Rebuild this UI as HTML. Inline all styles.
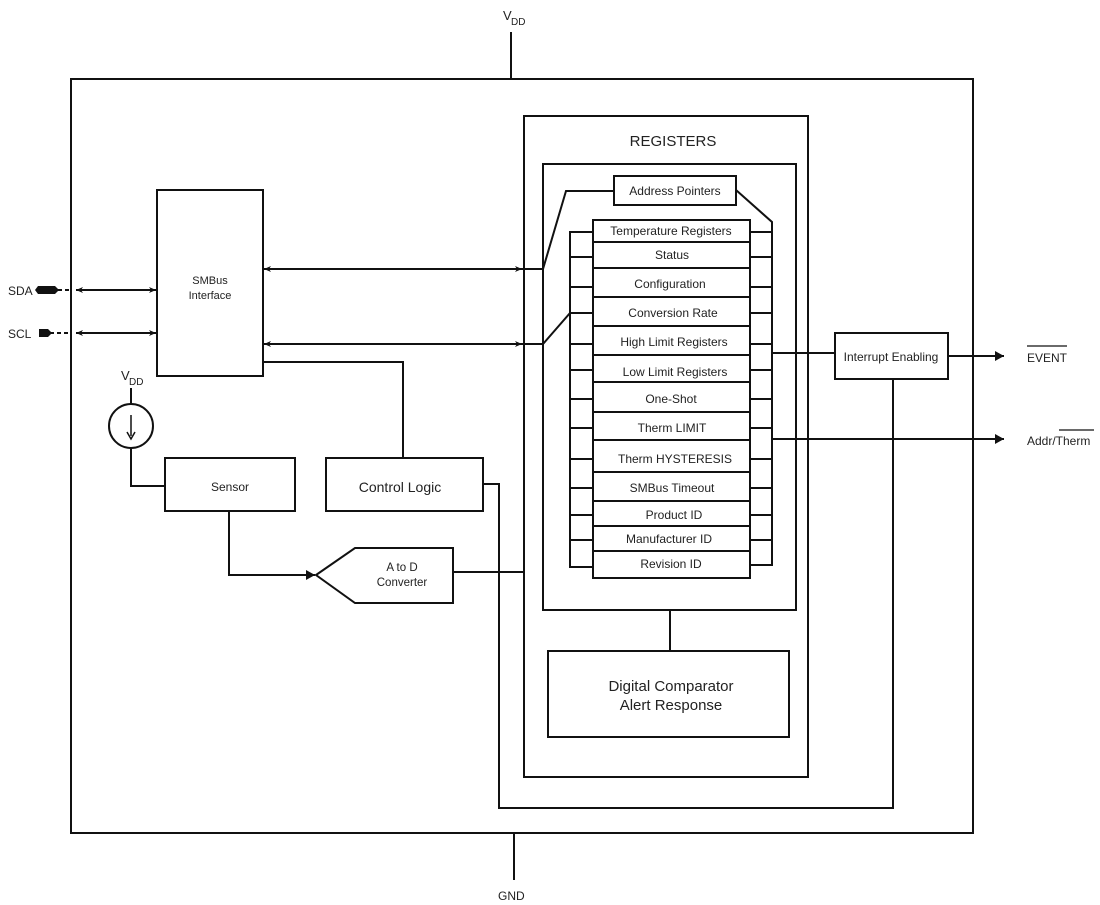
<!DOCTYPE html>
<html><head><meta charset="utf-8"><style>
html,body{margin:0;padding:0;background:#fff;}
svg{display:block;}
text{font-family:"Liberation Sans",sans-serif;fill:#222;}
</style></head><body>
<svg width="1100" height="905" viewBox="0 0 1100 905" xmlns="http://www.w3.org/2000/svg">
<defs>
<marker id="ah" markerWidth="8" markerHeight="8" refX="7" refY="4" orient="auto-start-reverse" markerUnits="userSpaceOnUse">
<path d="M0,1 L7,4 L0,7 L2,4 Z" fill="#111"/></marker>
<marker id="tri" markerWidth="10" markerHeight="10" refX="9" refY="5" orient="auto" markerUnits="userSpaceOnUse">
<path d="M0,0 L9,5 L0,10 Z" fill="#111"/></marker>
</defs>
<g stroke="#111" stroke-width="2" fill="none">
<rect x="71" y="79" width="902" height="754"/>
<line x1="511" y1="32" x2="511" y2="79"/>
<line x1="514" y1="833" x2="514" y2="880"/>
<rect x="524" y="116" width="284" height="661"/>
<rect x="543" y="164" width="253" height="446"/>
<rect x="614" y="176" width="122" height="29"/>
<rect x="548" y="651" width="241" height="86"/>
<line x1="670" y1="610" x2="670" y2="651"/>
<rect x="593" y="220" width="157" height="358"/>
<path d="M593 242H750M593 268H750M593 297H750M593 326H750M593 355H750M593 382H750M593 412H750M593 440H750M593 472H750M593 501H750M593 526H750M593 551H750"/>
<path d="M593 232H570V567H593M570 257H593M570 287H593M570 313H593M570 344H593M570 370H593M570 399H593M570 428H593M570 459H593M570 488H593M570 515H593M570 540H593"/>
<path d="M750 232H772M750 257H772M750 287H772M750 313H772M750 344H772M750 370H772M750 399H772M750 428H772M750 459H772M750 488H772M750 515H772M750 540H772M750 565H772V222L736 190"/>
<rect x="157" y="190" width="106" height="186"/>
<line x1="76" y1="290" x2="156" y2="290" marker-start="url(#ah)" marker-end="url(#ah)"/>
<line x1="76" y1="333" x2="156" y2="333" marker-start="url(#ah)" marker-end="url(#ah)"/>
<line x1="264" y1="269" x2="522" y2="269" marker-start="url(#ah)" marker-end="url(#ah)"/>
<line x1="264" y1="344" x2="522" y2="344" marker-start="url(#ah)" marker-end="url(#ah)"/>
<path d="M522 269H543L566 191H614"/>
<path d="M522 344H543L570 313"/>
<path d="M263 362H403V458"/>
<rect x="326" y="458" width="157" height="53"/>
<path d="M483 484H499V808H893V379"/>
<rect x="835" y="333" width="113" height="46"/>
<line x1="772" y1="353" x2="835" y2="353"/>
<line x1="948" y1="356" x2="1004" y2="356" marker-end="url(#tri)"/>
<line x1="772" y1="439" x2="1004" y2="439" marker-end="url(#tri)"/>
<rect x="165" y="458" width="130" height="53"/>
<circle cx="131" cy="426" r="22"/>
<line x1="131" y1="388" x2="131" y2="404"/>
<path d="M131 448V486H165"/>
<line x1="131" y1="415" x2="131" y2="436" stroke-width="1.5"/>
<path d="M127 432L131 439L135 432" stroke-width="1.5"/>
<path d="M229 511V575H315" marker-end="url(#tri)"/>
<path d="M316 575L355 548H453V603H355Z"/>
<line x1="453" y1="572" x2="524" y2="572"/>
<line x1="58" y1="290" x2="72" y2="290" stroke-dasharray="4,3"/>
<line x1="50" y1="333" x2="72" y2="333" stroke-dasharray="4,3"/>
</g>
<path d="M38 286H55L59 290L55 294H38L35 290Z" fill="#111"/>
<path d="M39 329H48L52 333L48 337H39Z" fill="#111"/>
<g font-size="12">
<text x="8" y="295">SDA</text>
<text x="8" y="338">SCL</text>
<text x="503" y="20" font-size="13">V</text><text x="511" y="25" font-size="10">DD</text>
<text x="121" y="380" font-size="13">V</text><text x="129" y="385" font-size="10">DD</text>
<text x="498" y="900" font-size="12">GND</text>
<text x="210" y="284" text-anchor="middle" font-size="11">SMBus</text>
<text x="210" y="299" text-anchor="middle" font-size="11">Interface</text>
<text x="673" y="146" text-anchor="middle" font-size="15">REGISTERS</text>
<text x="675" y="195" text-anchor="middle" font-size="12">Address Pointers</text>
<g text-anchor="middle" font-size="12">
<text x="671" y="235">Temperature Registers</text>
<text x="672" y="259">Status</text>
<text x="670" y="288">Configuration</text>
<text x="673" y="317">Conversion Rate</text>
<text x="674" y="346">High Limit Registers</text>
<text x="675" y="376">Low Limit Registers</text>
<text x="671" y="403">One-Shot</text>
<text x="672" y="432">Therm LIMIT</text>
<text x="675" y="463">Therm HYSTERESIS</text>
<text x="672" y="492">SMBus Timeout</text>
<text x="674" y="519">Product ID</text>
<text x="669" y="543">Manufacturer ID</text>
<text x="671" y="568">Revision ID</text>
<text x="671" y="691" font-size="15">Digital Comparator</text>
<text x="671" y="710" font-size="15">Alert Response</text>
<text x="891" y="361">Interrupt Enabling</text>
<text x="400" y="492" font-size="14">Control Logic</text>
<text x="230" y="491">Sensor</text>
<text x="402" y="571" font-size="11.5">A to D</text>
<text x="402" y="586" font-size="11.5">Converter</text>
</g>
<text x="1027" y="362">EVENT</text>
<line x1="1027" y1="346" x2="1067" y2="346" stroke="#111" stroke-width="1.3"/>
<text x="1027" y="445">Addr/Therm</text>
<line x1="1059" y1="430" x2="1094" y2="430" stroke="#111" stroke-width="1.3"/>
</g>
</svg>
</body></html>
